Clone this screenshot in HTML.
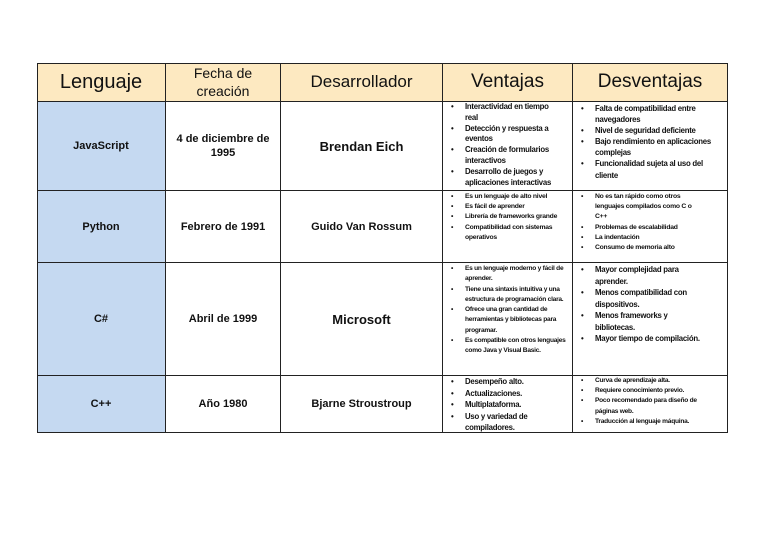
<!DOCTYPE html>
<html><head><meta charset="utf-8"><style>
body{margin:0;width:768px;height:542px;background:#fff;position:relative;font-family:"Liberation Sans",sans-serif;overflow:hidden}
.c{position:absolute;box-sizing:border-box;border-right:1px solid #222;border-bottom:1px solid #222;display:flex;align-items:center;justify-content:center;text-align:center;color:#111}
.h{background:#fde9c1}
.l{background:#c5d9f1;font-weight:bold;font-size:11px}
.b{font-weight:bold}
ul{margin:0;padding:0 10px 0 22px;text-align:left;list-style:none;width:100%;box-sizing:border-box}
li{position:relative;font-weight:bold;letter-spacing:-0.25px}
li:before{content:"•";position:absolute;left:-14px;top:0;font-size:1em}
.top{align-items:flex-start}
</style></head><body>
<div style="position:absolute;left:37px;top:63px;width:691px;height:370px;border:1.5px solid #222;box-sizing:border-box;pointer-events:none;z-index:2"></div>
<div class="c h" style="left:37px;top:63px;width:129px;height:39px;font-size:20px">Lenguaje</div>
<div class="c h" style="left:166px;top:63px;width:115px;height:39px;font-size:14px;line-height:18px">Fecha de<br>creación</div>
<div class="c h" style="left:281px;top:63px;width:162px;height:39px;font-size:17px">Desarrollador</div>
<div class="c h" style="left:443px;top:63px;width:130px;height:39px;font-size:19px">Ventajas</div>
<div class="c h" style="left:573px;top:63px;width:155px;height:39px;font-size:19px">Desventajas</div>
<!-- JS -->
<div class="c l" style="left:37px;top:102px;width:129px;height:89px">JavaScript</div>
<div class="c b" style="left:166px;top:102px;width:115px;height:89px;font-size:11px;line-height:14px">4 de diciembre de<br>1995</div>
<div class="c b" style="left:281px;top:102px;width:162px;height:89px;font-size:13px">Brendan Eich</div>
<div class="c top" style="left:443px;top:102px;width:130px;height:89px;font-size:7.8px;line-height:10.8px;padding-top:0px"><ul>
<li>Interactividad en tiempo real</li><li>Detección y respuesta a eventos</li><li>Creación de formularios interactivos</li><li>Desarrollo de juegos y aplicaciones interactivas</li></ul></div>
<div class="c top" style="left:573px;top:102px;width:155px;height:89px;font-size:7.8px;line-height:11.1px;padding-top:1px"><ul>
<li>Falta de compatibilidad entre navegadores</li><li>Nivel de seguridad deficiente</li><li>Bajo rendimiento en aplicaciones complejas</li><li>Funcionalidad sujeta al uso del cliente</li></ul></div>
<!-- Python -->
<div class="c l" style="left:37px;top:191px;width:129px;height:72px">Python</div>
<div class="c b" style="left:166px;top:191px;width:115px;height:72px;font-size:11px">Febrero de 1991</div>
<div class="c b" style="left:281px;top:191px;width:162px;height:72px;font-size:11px">Guido Van Rossum</div>
<div class="c top" style="left:443px;top:191px;width:130px;height:72px;font-size:6.8px;line-height:10.2px;padding-top:1px"><ul style="padding-right:6px">
<li>Es un lenguaje de alto nivel</li><li>Es fácil de aprender</li><li>Librería de frameworks grande</li><li>Compatibilidad con sistemas operativos</li></ul></div>
<div class="c top" style="left:573px;top:191px;width:155px;height:72px;font-size:6.8px;line-height:10.2px;padding-top:1px"><ul style="padding-right:16px">
<li>No es tan rápido como otros lenguajes compilados como C o<br>C++</li><li>Problemas de escalabilidad</li><li>La indentación</li><li>Consumo de memoria alto</li></ul></div>
<!-- C# -->
<div class="c l" style="left:37px;top:263px;width:129px;height:113px">C#</div>
<div class="c b" style="left:166px;top:263px;width:115px;height:113px;font-size:11px">Abril de 1999</div>
<div class="c b" style="left:281px;top:263px;width:162px;height:113px;font-size:13px">Microsoft</div>
<div class="c top" style="left:443px;top:263px;width:130px;height:113px;font-size:6.6px;line-height:10.3px;padding-top:1px"><ul style="padding-right:6px">
<li>Es un lenguaje moderno y fácil de aprender.</li><li>Tiene una sintaxis intuitiva y una estructura de programación clara.</li><li>Ofrece una gran cantidad de herramientas y bibliotecas para programar.</li><li>Es compatible con otros lenguajes como Java y Visual Basic.</li></ul></div>
<div class="c top" style="left:573px;top:263px;width:155px;height:113px;font-size:7.8px;line-height:11.5px;padding-top:1px"><ul style="padding-right:24px">
<li>Mayor complejidad para aprender.</li><li>Menos compatibilidad con dispositivos.</li><li>Menos frameworks y bibliotecas.</li><li>Mayor tiempo de compilación.</li></ul></div>
<!-- C++ -->
<div class="c l" style="left:37px;top:376px;width:129px;height:57px">C++</div>
<div class="c b" style="left:166px;top:376px;width:115px;height:57px;font-size:11px">Año 1980</div>
<div class="c b" style="left:281px;top:376px;width:162px;height:57px;font-size:11px">Bjarne Stroustroup</div>
<div class="c top" style="left:443px;top:376px;width:130px;height:57px;font-size:7.8px;line-height:11.5px;padding-top:0px"><ul style="padding-right:18px">
<li>Desempeño alto.</li><li>Actualizaciones.</li><li>Multiplataforma.</li><li>Uso y variedad de compiladores.</li></ul></div>
<div class="c top" style="left:573px;top:376px;width:155px;height:57px;font-size:6.6px;line-height:10.2px;padding-top:0px"><ul style="padding-right:6px">
<li>Curva de aprendizaje alta.</li><li>Requiere conocimiento previo.</li><li>Poco recomendado para diseño de páginas web.</li><li>Traducción al lenguaje máquina.</li></ul></div>
</body></html>
